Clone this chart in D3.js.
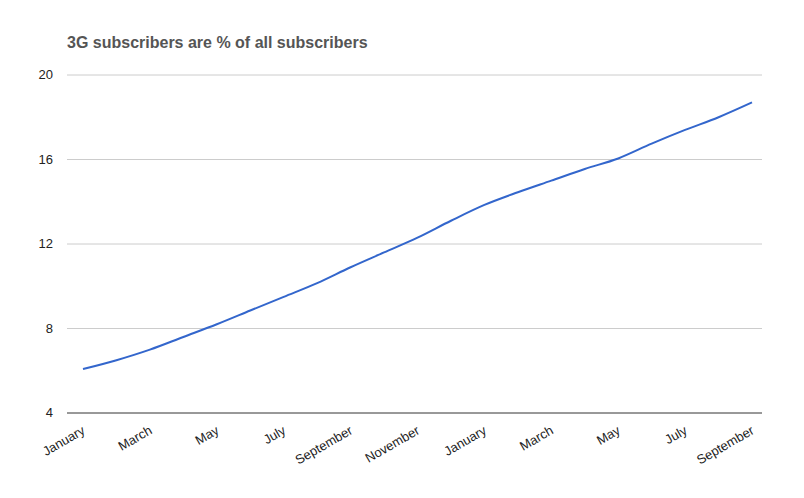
<!DOCTYPE html>
<html><head><meta charset="utf-8">
<script src="https://cdn.jsdelivr.net/npm/d3@7"></script>
<style>body{margin:0;background:#fff;font-family:"Liberation Sans",Arial,sans-serif;}</style>
</head><body><div id="chart"></div>
<script>
const months=["January","February","March","April","May","June","July","August","September","October","November","December",
  "January","February","March","April","May","June","July","August","September"];
const values=[6.08,6.5,7.0,7.6,8.2,8.85,9.5,10.15,10.9,11.6,12.3,13.1,13.85,14.45,15.0,15.55,16.05,16.75,17.4,18.0,18.7];
const yTicks=[4,8,12,16,20];

const width=804,height=498;
const m={left:67,right:42,top:75,bottom:85};
const svg=d3.select("#chart").append("svg").attr("width",width).attr("height",height);

const x=d3.scaleLinear().domain([0,months.length-1]).range([83,752]);
const y=d3.scaleLinear().domain([4,20]).range([height-m.bottom,m.top]);

svg.append("text").attr("x",67).attr("y",48)
  .attr("font-size",16).attr("font-weight","bold").attr("fill","#555")
  .text("3G subscribers are % of all subscribers");

svg.append("g").selectAll("line").data(yTicks.slice(1)).join("line")
  .attr("x1",m.left).attr("x2",width-m.right)
  .attr("y1",d=>y(d)).attr("y2",d=>y(d)).attr("stroke","#ccc");

svg.append("line").attr("x1",m.left).attr("x2",width-m.right)
  .attr("y1",y(4)).attr("y2",y(4)).attr("stroke","#333");

svg.append("g").selectAll("text").data(yTicks).join("text")
  .attr("x",53).attr("y",d=>y(d)+4).attr("text-anchor","end")
  .attr("font-size",13).attr("fill","#222").text(d=>d);

svg.append("g").selectAll("text").data(months.map((d,i)=>({d,i})).filter(o=>o.i%2==0)).join("text")
  .attr("transform",o=>`translate(${x(o.i)+3},${y(4)+20}) rotate(-30)`)
  .attr("text-anchor","end").attr("font-size",13).attr("fill","#222").text(o=>o.d);

const line=d3.line().x((d,i)=>x(i)).y(d=>y(d)).curve(d3.curveMonotoneX);
svg.append("path").datum(values).attr("d",line)
  .attr("fill","none").attr("stroke","#3366cc").attr("stroke-width",2);
</script></body></html>
